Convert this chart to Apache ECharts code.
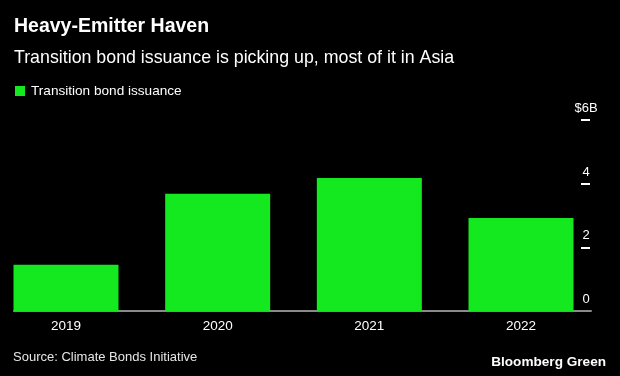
<!DOCTYPE html>
<html>
<head>
<meta charset="utf-8">
<script src="https://cdn.jsdelivr.net/npm/echarts@6/dist/echarts.min.js"></script>
<style>
html,body{margin:0;padding:0;background:#000;}
#c{width:620px;height:376px;}
</style>
</head>
<body>
<div id="c"></div>
<script>
var categories = ['2019', '2020', '2021', '2022'];
var issuance = [1.45, 3.68, 4.18, 2.92];
var yTicks = [0, 2, 4, 6];
var seriesName = 'Transition bond issuance';

var FONT = '"Liberation Sans", Arial, Helvetica, sans-serif';
var chart = echarts.init(document.getElementById('c'), null, {renderer: 'canvas'});
chart.setOption({
  backgroundColor: '#000',
  animation: false,
  textStyle: {fontFamily: FONT},
  title: [
    {text: 'Heavy-Emitter Haven', left: 14, top: 17, padding: 0,
     textStyle: {color: '#fff', fontSize: 19.5, fontWeight: 'bold', fontFamily: FONT}},
    {text: 'Transition bond issuance is picking up, most of it in Asia', left: 14, top: 49, padding: 0,
     textStyle: {color: '#fff', fontSize: 17.8, fontWeight: 'normal', fontFamily: FONT}},
    {text: 'Source: Climate Bonds Initiative', left: 13, top: 351, padding: 0,
     textStyle: {color: '#e6e6e6', fontSize: 13, fontWeight: 'normal', fontFamily: FONT}},
    {text: 'Bloomberg Green', right: 14, top: 355, padding: 0,
     textStyle: {color: '#fff', fontSize: 13.6, fontWeight: 'bold', fontFamily: '"Liberation Sans Narrow", "Arial Narrow", ' + FONT}}
  ],
  legend: {
    left: 10, top: 79, itemWidth: 10, itemHeight: 10, itemGap: 10,
    icon: 'rect',
    textStyle: {color: '#fff', fontSize: 13.6, fontFamily: FONT, padding: [0,0,0,1]},
    data: [seriesName]
  },
  grid: [
    {left: 66, right: 99, top: 120, bottom: 65, containLabel: false},
    {left: 14, right: 29, top: 120, bottom: 65, containLabel: false}
  ],
  xAxis: [
    {type: 'category', data: categories, gridIndex: 0, boundaryGap: false,
     axisLine: {show: false}, axisTick: {show: false},
     axisLabel: {color: '#fff', fontSize: 13.5, margin: 8, fontFamily: FONT}},
    {type: 'value', gridIndex: 1, min: 0, max: 1,
     axisLine: {show: true, onZero: false, lineStyle: {color: '#8a8a8a', width: 2}},
     axisTick: {show: false}, axisLabel: {show: false}, splitLine: {show: false}}
  ],
  yAxis: [
    {type: 'value', gridIndex: 0, min: yTicks[0], max: yTicks[yTicks.length - 1], interval: 2, show: false},
    {type: 'value', gridIndex: 1, position: 'right', offset: -10,
     min: yTicks[0], max: yTicks[yTicks.length - 1], interval: 2,
     axisLine: {show: false, onZero: false},
     axisTick: {show: true, inside: false, length: 9,
       customValues: yTicks.filter(function (v) { return v !== 0; }),
       lineStyle: {color: '#fff', width: 2}},
     splitLine: {show: false},
     axisLabel: {color: '#fff', fontSize: 13, margin: 5, align: 'center', verticalAlign: 'bottom',
       padding: [0, 0, 5, 0], fontFamily: FONT,
       formatter: function (v) { return v === 6 ? '$6B' : String(v); }}}
  ],
  series: [{
    name: seriesName, type: 'bar', xAxisIndex: 0, yAxisIndex: 0,
    data: issuance, barWidth: 105, clip: false,
    itemStyle: {color: '#14E81F'}
  }]
});
</script>
</body>
</html>
